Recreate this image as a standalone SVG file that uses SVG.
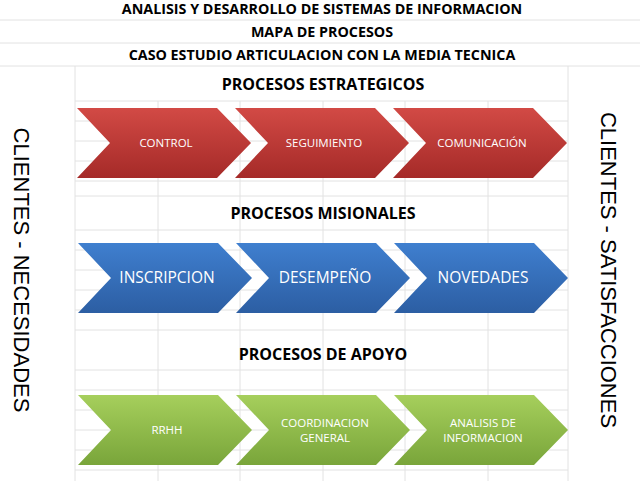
<svg xmlns="http://www.w3.org/2000/svg" width="640" height="481" viewBox="0 0 640 481">
<defs>
<linearGradient id="gr" x1="0" y1="0" x2="0" y2="1"><stop offset="0" stop-color="#d24a45"/><stop offset="1" stop-color="#a52a28"/></linearGradient>
<linearGradient id="gb" x1="0" y1="0" x2="0" y2="1"><stop offset="0" stop-color="#3f7fcf"/><stop offset="1" stop-color="#2c5ea3"/></linearGradient>
<linearGradient id="gg" x1="0" y1="0" x2="0" y2="1"><stop offset="0" stop-color="#a6cf5c"/><stop offset="1" stop-color="#79a53a"/></linearGradient>
<path id="chev" d="M0,0 H140 L174,35 L140,70 H0 L33,35 Z"/>
</defs>
<style>
.grid line{stroke:#e2e2e2;stroke-width:1}
.h{font-family:"Open Sans","Liberation Sans",sans-serif;font-weight:bold;font-size:14.3px;text-anchor:middle;fill:#000}
.h2{font-family:"Open Sans","Liberation Sans",sans-serif;font-weight:bold;font-size:16px;text-anchor:middle;fill:#000}
.t{font-family:"Open Sans","Liberation Sans",sans-serif;font-size:11.5px;text-anchor:middle;fill:#fff}
.tb{font-family:"Open Sans","Liberation Sans",sans-serif;font-size:15.5px;text-anchor:middle;fill:#fff}
.side{font-family:"Liberation Sans",sans-serif;font-size:22px;text-anchor:middle;fill:#000}
</style>
<rect width="640" height="481" fill="#fff"/>
<g class="grid">
<line x1="0" y1="20" x2="640" y2="20"/><line x1="0" y1="43" x2="640" y2="43"/><line x1="0" y1="66" x2="640" y2="66"/>
<line x1="75" y1="66" x2="75" y2="481"/><line x1="568" y1="66" x2="568" y2="481"/>
<line x1="158" y1="101" x2="158" y2="481"/><line x1="240" y1="101" x2="240" y2="481"/><line x1="323" y1="101" x2="323" y2="481"/><line x1="405" y1="101" x2="405" y2="481"/><line x1="488" y1="101" x2="488" y2="481"/>
<line x1="75" y1="101" x2="568" y2="101"/><line x1="75" y1="121" x2="568" y2="121"/><line x1="75" y1="141" x2="568" y2="141"/><line x1="75" y1="161" x2="568" y2="161"/><line x1="75" y1="181" x2="568" y2="181"/><line x1="75" y1="196" x2="568" y2="196"/><line x1="75" y1="230" x2="568" y2="230"/><line x1="75" y1="250" x2="568" y2="250"/><line x1="75" y1="270" x2="568" y2="270"/><line x1="75" y1="290" x2="568" y2="290"/><line x1="75" y1="310" x2="568" y2="310"/><line x1="75" y1="330" x2="568" y2="330"/><line x1="75" y1="370" x2="568" y2="370"/><line x1="75" y1="390" x2="568" y2="390"/><line x1="75" y1="410" x2="568" y2="410"/><line x1="75" y1="430" x2="568" y2="430"/><line x1="75" y1="450" x2="568" y2="450"/><line x1="75" y1="470" x2="568" y2="470"/>
</g>
<text class="h" x="322" y="14">ANALISIS Y DESARROLLO DE SISTEMAS DE INFORMACION</text>
<text class="h" x="322" y="37">MAPA DE PROCESOS</text>
<text class="h" x="322" y="60">CASO ESTUDIO ARTICULACION CON LA MEDIA TECNICA</text>
<text class="h2" x="323" y="90">PROCESOS ESTRATEGICOS</text>
<text class="h2" x="323" y="219">PROCESOS MISIONALES</text>
<text class="h2" x="323" y="360">PROCESOS DE APOYO</text>
<text class="side" transform="translate(14,270) rotate(90)">CLIENTES - NECESIDADES</text>
<text class="side" transform="translate(601,270) rotate(90)">CLIENTES - SATISFACCIONES</text>
<g id="control"><use href="#chev" x="77" y="108" fill="url(#gr)"/><text class="t" x="166" y="147">CONTROL</text></g>
<g id="seguimiento"><use href="#chev" x="235" y="108" fill="url(#gr)"/><text class="t" x="324" y="147">SEGUIMIENTO</text></g>
<g id="comunicacion"><use href="#chev" x="393" y="108" fill="url(#gr)"/><text class="t" x="482" y="147">COMUNICACIÓN</text></g>
<g id="inscripcion"><use href="#chev" x="78" y="243" fill="url(#gb)"/><text class="tb" x="167" y="283">INSCRIPCION</text></g>
<g id="desempeno"><use href="#chev" x="236" y="243" fill="url(#gb)"/><text class="tb" x="325" y="283">DESEMPEÑO</text></g>
<g id="novedades"><use href="#chev" x="394" y="243" fill="url(#gb)"/><text class="tb" x="483" y="283">NOVEDADES</text></g>
<g id="rrhh"><use href="#chev" x="78" y="395" fill="url(#gg)"/><text class="t" x="167" y="434">RRHH</text></g>
<g id="coordinacion"><use href="#chev" x="236" y="395" fill="url(#gg)"/><text class="t" x="325" y="427">COORDINACION</text><text class="t" x="325" y="442">GENERAL</text></g>
<g id="analisis"><use href="#chev" x="394" y="395" fill="url(#gg)"/><text class="t" x="483" y="427">ANALISIS DE</text><text class="t" x="483" y="442">INFORMACION</text></g>
<g id="connectors"/>
</svg>
